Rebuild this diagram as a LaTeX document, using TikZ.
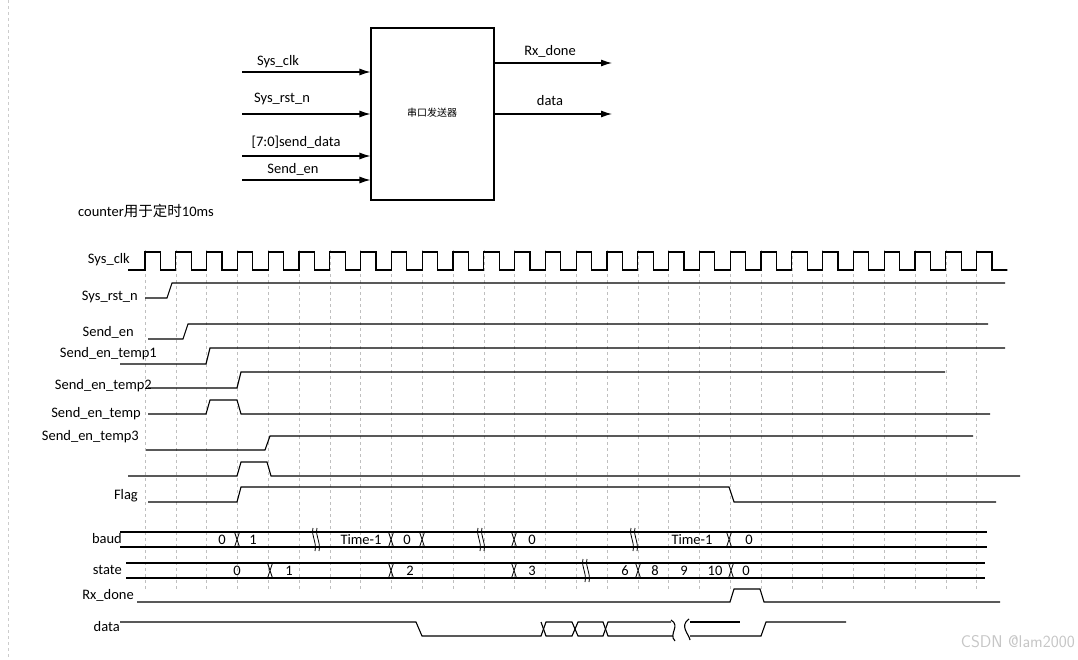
\documentclass[tikz,border=0pt]{standalone}
\usepackage{fontspec}
\setmainfont{Carlito}
\newfontfamily\cjk{Noto Sans CJK SC}
\usetikzlibrary{arrows.meta}
\begin{document}
\begin{tikzpicture}[x=1pt,y=-1pt,
  sig/.style={line width=1.1pt,black},
  grid/.style={dashed,gray!50,line width=0.5pt},
  lbl/.style={font=\fontsize{14.5}{14.5}\selectfont,inner sep=0pt},
  arr/.style={-{Latex[length=11pt,width=7pt]},line width=1.1pt}]
\useasboundingbox (0,0) rectangle (1078,660);
\draw[dashed,gray!40] (8,0) -- (8,660);
% block
\node[draw,line width=1.1pt,minimum width=123pt,minimum height=172pt,inner sep=0pt] (blk) at (432.5,114) {};
\node[lbl,font=\cjk\fontsize{10}{10}\selectfont] (blkt) at (432,113) {串口发送器};
\coordinate (i1) at (242,72); \coordinate (i2) at (242,114);
\coordinate (i3) at (242,156); \coordinate (i4) at (242,180);
\draw[arr] (i1) -- (i1 -| blk.west);
\draw[arr] (i2) -- (i2 -| blk.west);
\draw[arr] (i3) -- (i3 -| blk.west);
\draw[arr] (i4) -- (i4 -| blk.west);
\node[lbl] (l1) at (278,62) {Sys\_clk};
\node[lbl] (l2) at (282,99) {Sys\_rst\_n};
\node[lbl] (l3) at (296,142) {[7:0]send\_data};
\node[lbl] (l4) at (293,169) {Send\_en};
\coordinate (o1) at (612,63); \coordinate (o2) at (612,114);
\draw[arr] (o1 -| blk.east) -- (o1);
\draw[arr] (o2 -| blk.east) -- (o2);
\node[lbl] (l5) at (550,51) {Rx\_done};
\node[lbl] (l6) at (550,101) {data};
\node[lbl,anchor=west] (cnt) at (78,211) {counter\cjk 用于定时\rmfamily 10ms};
% grid
\foreach \k in {0,...,27} \draw[grid] (145+30.8*\k,250) -- (145+30.8*\k,590);
% labels
\node[lbl,anchor=east] at (130,260) {Sys\_clk};
\node[lbl,anchor=east] at (138,297) {Sys\_rst\_n};
\node[lbl,anchor=east] at (134,332) {Send\_en};
\node[lbl,anchor=east] at (157,354) {Send\_en\_temp1};
\node[lbl,anchor=east] at (152,386) {Send\_en\_temp2};
\node[lbl,anchor=east] at (141,414) {Send\_en\_temp};
\node[lbl,anchor=east] at (139,437) {Send\_en\_temp3};
\node[lbl,anchor=east] at (138,496) {Flag};
\node[lbl,anchor=east] at (122,539) {baud};
\node[lbl,anchor=east] at (122,570) {state};
\node[lbl,anchor=east] at (134,595) {Rx\_done};
\node[lbl,anchor=east] at (120,627) {data};
% clock
\draw[sig] (128,270) -- (145,270)
  \foreach \k in {0,...,27} { -- (145+30.8*\k,252) -- (160.4+30.8*\k,252) -- (160.4+30.8*\k,270) -- (175.8+30.8*\k,270) } -- (1005,270);
% simple signals
\draw[sig] (145,298) -- (167,298) -- (172,283) -- (1005,283);
\draw[sig] (148,339) -- (183,339) -- (188,324) -- (988,324);
\draw[sig] (120,364) -- (206,364) -- (210,348) -- (1005,348);
\draw[sig] (148,388) -- (237,388) -- (241,372) -- (945,372);
\draw[sig] (148,414) -- (206,414) -- (210,400) -- (237,400) -- (241,414) -- (990,414);
\draw[sig] (146,450) -- (265,450) -- (270,436) -- (973,436);
\draw[sig] (128,476) -- (237,476) -- (241,462) -- (267,462) -- (271,476) -- (1020,476);
\draw[sig] (148,502) -- (237,502) -- (241,487) -- (729,487) -- (734,502) -- (996,502);
\draw[sig] (137,602) -- (730,602) -- (734,589) -- (760,589) -- (764,602) -- (1000,602);
% buses
\draw[sig] (120,532) -- (987,532) (120,547) -- (987,547);
\draw[sig] (126,563) -- (985,563) (126,578) -- (985,578);
\foreach \x/\y in {237/532,391/532,422/532,514/532,729/532,270/563,391/563,514/563,638/563,731/563}
  \draw[sig,line width=0.8pt] (\x-2.5,\y) -- (\x+2.5,\y+15) (\x-2.5,\y+15) -- (\x+2.5,\y);
\foreach \x/\y in {315/528,480/528,633/528,585/559}
  \draw[sig,line width=0.8pt] (\x-2,\y) .. controls (\x-4,\y+8) and (\x+2,\y+14) .. (\x,\y+23)
             (\x+2,\y) .. controls (\x,\y+8) and (\x+6,\y+14) .. (\x+4,\y+23);
\foreach \x/\t in {222/0,253/1,407/0,532/0,749/0} \node[lbl] at (\x,540) {\t};
\node[lbl] at (361,540) {Time-1};
\node[lbl] at (692,540) {Time-1};
\foreach \x/\t in {237/0,289/1,410/2,532/3,625/6,655/8,684/9,715/10,746/0} \node[lbl] at (\x,571) {\t};
% data
\draw[sig] (120,622) -- (416,622) -- (422,636) -- (541,636) -- (546,622) -- (572,622) -- (578,636) -- (603,636) -- (608,622) -- (671,622);
\draw[sig] (541,622) -- (546,636) -- (572,636) -- (578,622) -- (603,622) -- (608,636) -- (673,636);
\draw[sig] (671,620) .. controls (681,626) and (668,634) .. (675,641);
\draw[sig] (689,619) .. controls (679,626) and (689,634) .. (690,640);
\draw[sig] (690,622) -- (740,622);
\draw[sig] (690,636) -- (761,636) -- (766,622) -- (846,622);
\node[lbl,gray!45,font=\fontfamily{lmss}\sffamily\fontsize{17}{17}\selectfont,anchor=east] at (1075,642) {CSDN @lam2000};
\end{tikzpicture}
\end{document}
